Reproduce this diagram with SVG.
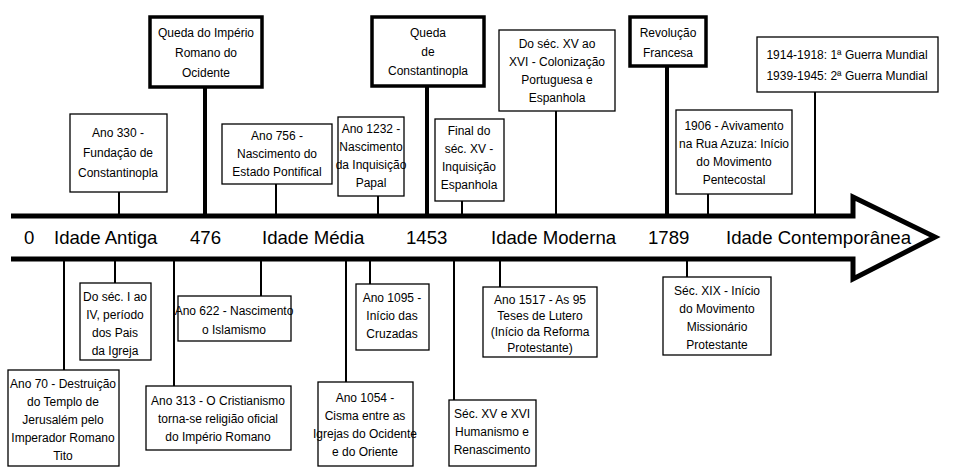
<svg xmlns="http://www.w3.org/2000/svg" width="962" height="472" viewBox="0 0 962 472">
<style>
rect{fill:#fff;stroke:#000;stroke-width:1.3}
rect.k{stroke-width:3.5}
rect.bg{stroke:none}
text{font-family:"Liberation Sans",Arial,sans-serif;font-size:12px;text-anchor:middle;fill:#000}
.big{font-size:18.6px;text-anchor:start}
line{stroke:#000;stroke-width:2}
line.k{stroke-width:4}
</style>
<rect class="bg" width="962" height="472"/>
<g id="arrow">
<polygon points="11,216 853,216 853,197 935,237 853,279 853,259 11,259" fill="#fff" stroke="none"/>
<polyline points="11,216 853,216 853,197 935,237 853,279 853,259 11,259" fill="none" stroke="#000" stroke-width="5"/>
<text class="big" x="24" y="244">0</text>
<text class="big" x="54" y="244">Idade Antiga</text>
<text class="big" x="190" y="244">476</text>
<text class="big" x="262" y="244">Idade Média</text>
<text class="big" x="406" y="244">1453</text>
<text class="big" x="491" y="244">Idade Moderna</text>
<text class="big" x="648" y="244">1789</text>
<text class="big" x="726" y="244">Idade Contemporânea</text>
</g>
<g id="connectors">
<line x1="119" y1="192" x2="119" y2="216"/>
<line class="k" x1="205" y1="87" x2="205" y2="216"/>
<line x1="276" y1="184" x2="276" y2="216"/>
<line x1="378" y1="196" x2="378" y2="216"/>
<line class="k" x1="427" y1="86" x2="427" y2="216"/>
<line x1="462" y1="201" x2="462" y2="216"/>
<line x1="556" y1="111" x2="556" y2="216"/>
<line class="k" x1="667" y1="66" x2="667" y2="216"/>
<line x1="708" y1="194" x2="708" y2="216"/>
<line x1="815" y1="92" x2="815" y2="216"/>
<line x1="64" y1="259" x2="64" y2="370"/>
<line x1="115" y1="259" x2="115" y2="283"/>
<line x1="174" y1="259" x2="174" y2="386"/>
<line x1="261" y1="259" x2="261" y2="296"/>
<line x1="346" y1="259" x2="346" y2="382"/>
<line x1="370" y1="259" x2="370" y2="284"/>
<line x1="454" y1="259" x2="454" y2="400"/>
<line x1="500" y1="259" x2="500" y2="287"/>
<line x1="687" y1="259" x2="687" y2="277"/>
</g>
<g id="n330"><rect x="70" y="114" width="97" height="78"/><text x="118" y="137">Ano 330 -</text><text x="118" y="157">Fundação de</text><text x="118" y="177">Constantinopla</text></g>
<g id="nqueda476"><rect class="k" x="150" y="17" width="112" height="70"/><text x="206" y="37">Queda do Império</text><text x="206" y="57">Romano do</text><text x="206" y="77">Ocidente</text></g>
<g id="n756"><rect x="222" y="124" width="110" height="60"/><text x="277" y="140">Ano 756 -</text><text x="277" y="158">Nascimento do</text><text x="277" y="176">Estado Pontifical</text></g>
<g id="n1232"><rect x="338" y="117" width="66" height="79"/><text x="371" y="133">Ano 1232 -</text><text x="371" y="151">Nascimento</text><text x="371" y="169">da Inquisição</text><text x="371" y="187">Papal</text></g>
<g id="n1453"><rect class="k" x="372" y="17" width="112" height="69"/><text x="428" y="37">Queda</text><text x="428" y="56">de</text><text x="428" y="75">Constantinopla</text></g>
<g id="ninq"><rect x="435" y="119" width="69" height="82"/><text x="469" y="135">Final do</text><text x="469" y="153">séc. XV -</text><text x="469" y="171">Inquisição</text><text x="469" y="189">Espanhola</text></g>
<g id="ncolon"><rect x="499" y="30" width="116" height="81"/><text x="557" y="48">Do séc. XV ao</text><text x="557" y="66">XVI - Colonização</text><text x="557" y="84">Portuguesa e</text><text x="557" y="102">Espanhola</text></g>
<g id="n1789"><rect class="k" x="630" y="17" width="76" height="49"/><text x="668" y="37">Revolução</text><text x="668" y="57">Francesa</text></g>
<g id="n1906"><rect x="676" y="110" width="116" height="84"/><text x="734" y="130">1906 - Avivamento</text><text x="734" y="148">na Rua Azuza: Início</text><text x="734" y="166">do Movimento</text><text x="734" y="184">Pentecostal</text></g>
<g id="nguerras"><rect x="757" y="37" width="181" height="55"/><text x="847" y="59">1914-1918: 1ª Guerra Mundial</text><text x="847" y="80">1939-1945: 2ª Guerra Mundial</text></g>
<g id="n70"><rect x="8" y="370" width="111" height="96"/><text x="63" y="388">Ano 70 - Destruição</text><text x="63" y="406">do Templo de</text><text x="63" y="424">Jerusalém pelo</text><text x="63" y="442">Imperador Romano</text><text x="63" y="460">Tito</text></g>
<g id="npais"><rect x="80" y="283" width="71" height="77"/><text x="115" y="301">Do séc. I ao</text><text x="115" y="319">IV, período</text><text x="115" y="337">dos Pais</text><text x="115" y="355">da Igreja</text></g>
<g id="n313"><rect x="146" y="386" width="145" height="64"/><text x="218" y="405">Ano 313 - O Cristianismo</text><text x="218" y="423">torna-se religião oficial</text><text x="218" y="441">do Império Romano</text></g>
<g id="n622"><rect x="178" y="296" width="113" height="45"/><text x="234" y="315">Ano 622 - Nascimento</text><text x="234" y="334">o Islamismo</text></g>
<g id="n1054"><rect x="318" y="382" width="95" height="84"/><text x="365" y="402">Ano 1054 -</text><text x="365" y="420">Cisma entre as</text><text x="365" y="438">Igrejas do Ocidente</text><text x="365" y="456">e do Oriente</text></g>
<g id="n1095"><rect x="356" y="284" width="73" height="66"/><text x="392" y="302">Ano 1095 -</text><text x="392" y="320">Início das</text><text x="392" y="338">Cruzadas</text></g>
<g id="nhuman"><rect x="449" y="400" width="87" height="66"/><text x="492" y="418">Séc. XV e XVI</text><text x="492" y="436">Humanismo e</text><text x="492" y="454">Renascimento</text></g>
<g id="n1517"><rect x="483" y="287" width="114" height="70"/><text x="540" y="304">Ano 1517 - As 95</text><text x="540" y="320">Teses de Lutero</text><text x="540" y="336">(Início da Reforma</text><text x="540" y="352">Protestante)</text></g>
<g id="nxix"><rect x="663" y="277" width="108" height="78"/><text x="717" y="295">Séc. XIX - Início</text><text x="717" y="313">do Movimento</text><text x="717" y="331">Missionário</text><text x="717" y="349">Protestante</text></g>
</svg>
